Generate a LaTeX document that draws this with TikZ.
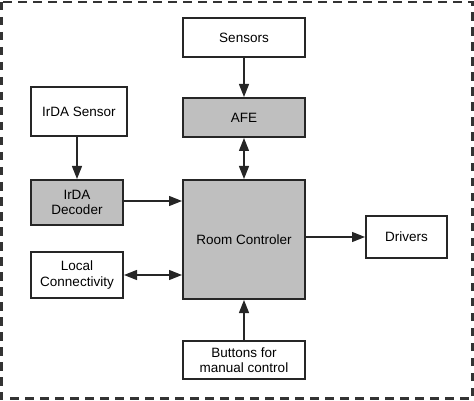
\documentclass[tikz,border=0pt]{standalone}
\usepackage{fontspec}
\setmainfont{Liberation Sans}
\usetikzlibrary{arrows.meta}
\begin{document}
\begin{tikzpicture}[x=1pt,y=-1pt,
  box/.style={draw=black!85,line width=2pt,fill=white,align=center,font=\fontsize{13.5}{15.5}\selectfont,inner sep=0pt},
  graybox/.style={box,fill=black!25},
  tip/.style={Triangle[length=13pt,width=10pt]},
  conn/.style={line width=1.3pt,draw=black!85,-{Triangle[length=13pt,width=10pt]}},
  bconn/.style={line width=1.3pt,draw=black!85,{Triangle[length=13pt,width=10pt]}-{Triangle[length=13pt,width=10pt]}}]
\useasboundingbox (0,0) rectangle (474,401);
\draw[line width=2.6pt,black!80,dash pattern=on 8.5pt off 6.5pt] (1.5,2) rectangle (472.5,398.5);
\node[box,minimum width=122pt,minimum height=39pt] (sens) at (244,37.5) {Sensors};
\node[graybox,minimum width=122pt,minimum height=39pt] (afe) at (244,117.5) {AFE};
\node[box,minimum width=96pt,minimum height=49pt] (irs) at (79,111.5) {IrDA Sensor};
\node[graybox,minimum width=92pt,minimum height=45pt] (ird) at (77,202.5) {IrDA\\Decoder};
\node[graybox,minimum width=122pt,minimum height=119pt] (room) at (244,239.5) {Room Controler};
\node[box,minimum width=81pt,minimum height=42pt] (drv) at (406.5,237) {Drivers};
\node[box,minimum width=92pt,minimum height=46pt] (loc) at (77,275) {Local\\Connectivity};
\node[box,minimum width=122pt,minimum height=38pt] (btn) at (244,360) {Buttons for\\manual control};
\draw[conn] (sens) -- (afe);
\draw[conn] (irs.south -| ird) -- (ird);
\draw[bconn] (afe) -- (room);
\draw[conn] (ird.east |- 0,201) -- (room.west |- 0,201);
\draw[conn] (room.east |- drv) -- (drv);
\draw[bconn] (loc.east |- 0,275) -- (room.west |- 0,275);
\draw[conn] (btn) -- (room);
\end{tikzpicture}
\end{document}
